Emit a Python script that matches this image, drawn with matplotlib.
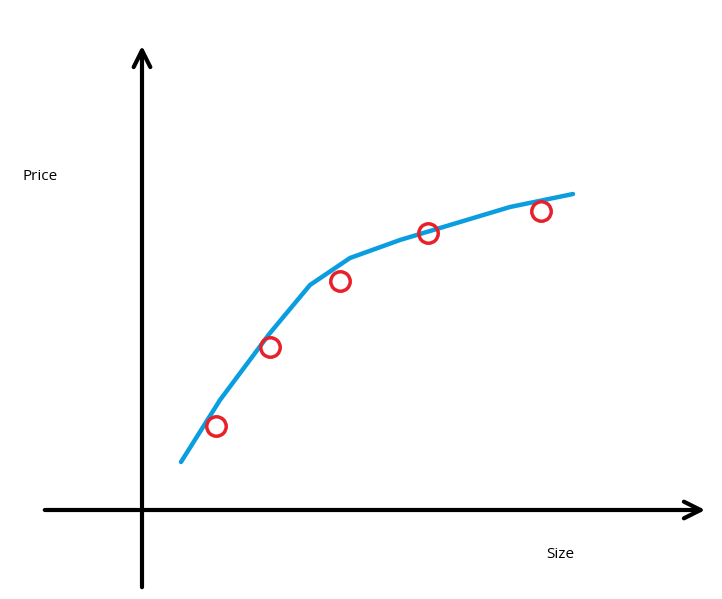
import matplotlib
matplotlib.use('Agg')
import matplotlib.pyplot as plt

# observed points (size, price)
size_pts = [74, 128, 198, 286, 399]
price_pts = [84, 163, 229, 277, 299]

# fitted curve
size_fit = [39, 78, 128, 168, 208, 258, 308, 368, 431]
price_fit = [48, 110, 177, 225, 252, 270, 285, 303, 316]

fig = plt.figure(figsize=(7.22, 5.99), dpi=100)
ax = fig.add_axes([0, 0, 1, 1])
ax.set_xlim(-142, 580)
ax.set_ylim(-89, 510)
ax.axis('off')

# axes with arrows
ax.annotate('', xy=(566, 0), xytext=(-100, 0),
            arrowprops=dict(arrowstyle='->,head_length=1.2,head_width=0.6', lw=3, color='black'))
ax.annotate('', xy=(0, 467), xytext=(0, -80),
            arrowprops=dict(arrowstyle='->,head_length=1.2,head_width=0.6', lw=3, color='black'))

ax.plot(size_fit, price_fit, color='#0a9de0', lw=3.2, solid_capstyle='round')
ax.plot(size_pts, price_pts, 'o', ms=14, mfc='none', mec='#e8202a', mew=2.5)

ax.text(-120, 333, 'Price', fontsize=11, family='Open Sans', va='center')
ax.text(404, -44, 'Size', fontsize=11, family='Open Sans', va='center')

plt.savefig('out.png')
